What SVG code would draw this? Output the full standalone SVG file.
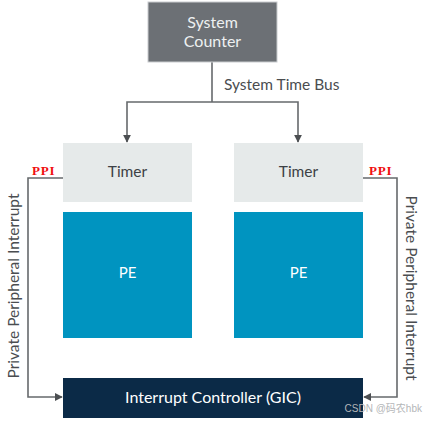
<svg xmlns="http://www.w3.org/2000/svg" width="425" height="421" viewBox="0 0 425 421">
<style>
.lbl{font-family:Lato,"Open Sans","Liberation Sans",sans-serif}
.wire{fill:none;stroke:#66696c;stroke-width:1.6}
.ppi{font-family:"Liberation Serif","Noto Sans CJK SC",serif;font-size:13px;fill:#f01010;font-weight:bold;letter-spacing:0.8px}
.side{font-size:15.5px;fill:#4a4d50}
</style>
<defs>
<marker id="ah" viewBox="0 0 10 10" refX="9" refY="5" markerWidth="8" markerHeight="8" markerUnits="userSpaceOnUse" orient="auto">
<path d="M0,0 L10,5 L0,10 Z" fill="#4c4f52"/>
</marker>
</defs>
<rect width="425" height="421" fill="#ffffff"/>
<g id="connectors">
<path class="wire" d="M212,62 V102"/>
<path class="wire" d="M212,102 H127 V142" marker-end="url(#ah)"/>
<path class="wire" d="M212,102 H298 V142" marker-end="url(#ah)"/>
<path class="wire" d="M63,178 H28 V397 H62" marker-end="url(#ah)"/>
<path class="wire" d="M363,178 H397 V397 H364" marker-end="url(#ah)"/>
<text class="lbl" x="224" y="90" font-size="15.5" fill="#4a4d50">System Time Bus</text>
<text class="ppi" x="32" y="175">PPI</text>
<text class="ppi" x="369" y="175">PPI</text>
<text class="lbl side" transform="translate(19,286) rotate(-90)" text-anchor="middle">Private Peripheral Interrupt</text>
<text class="lbl side" transform="translate(406,288) rotate(90)" text-anchor="middle">Private Peripheral Interrupt</text>
</g>
<g id="system-counter">
<rect x="148" y="2" width="129" height="60" fill="#6c7075" stroke="#c9cccf" stroke-width="1"/>
<text class="lbl" x="212.5" y="28" font-size="16" fill="#eef0f1" text-anchor="middle">System</text>
<text class="lbl" x="212.5" y="47" font-size="16" fill="#eef0f1" text-anchor="middle">Counter</text>
</g>
<g id="timer-left">
<rect x="63" y="143" width="129" height="59" fill="#e6eaea"/>
<text class="lbl" x="127.5" y="177" font-size="15.5" fill="#3d4145" text-anchor="middle">Timer</text>
</g>
<g id="timer-right">
<rect x="234" y="143" width="129" height="59" fill="#e6eaea"/>
<text class="lbl" x="298.5" y="177" font-size="15.5" fill="#3d4145" text-anchor="middle">Timer</text>
</g>
<g id="pe-left">
<rect x="63" y="212" width="129" height="126" fill="#0094c0"/>
<text class="lbl" x="127.5" y="278" font-size="15" fill="#ffffff" text-anchor="middle">PE</text>
</g>
<g id="pe-right">
<rect x="234" y="212" width="129" height="126" fill="#0094c0"/>
<text class="lbl" x="298.5" y="278" font-size="15" fill="#ffffff" text-anchor="middle">PE</text>
</g>
<g id="gic">
<rect x="63" y="378" width="300" height="40" fill="#0b2a47"/>
<text class="lbl" x="213" y="403" font-size="16" fill="#ffffff" text-anchor="middle">Interrupt Controller (GIC)</text>
</g>
<text x="422" y="412" text-anchor="end" font-family="'Liberation Sans','Noto Sans CJK SC',sans-serif" font-size="10" fill="#b4b6b8">CSDN @码农hbk</text>
</svg>
